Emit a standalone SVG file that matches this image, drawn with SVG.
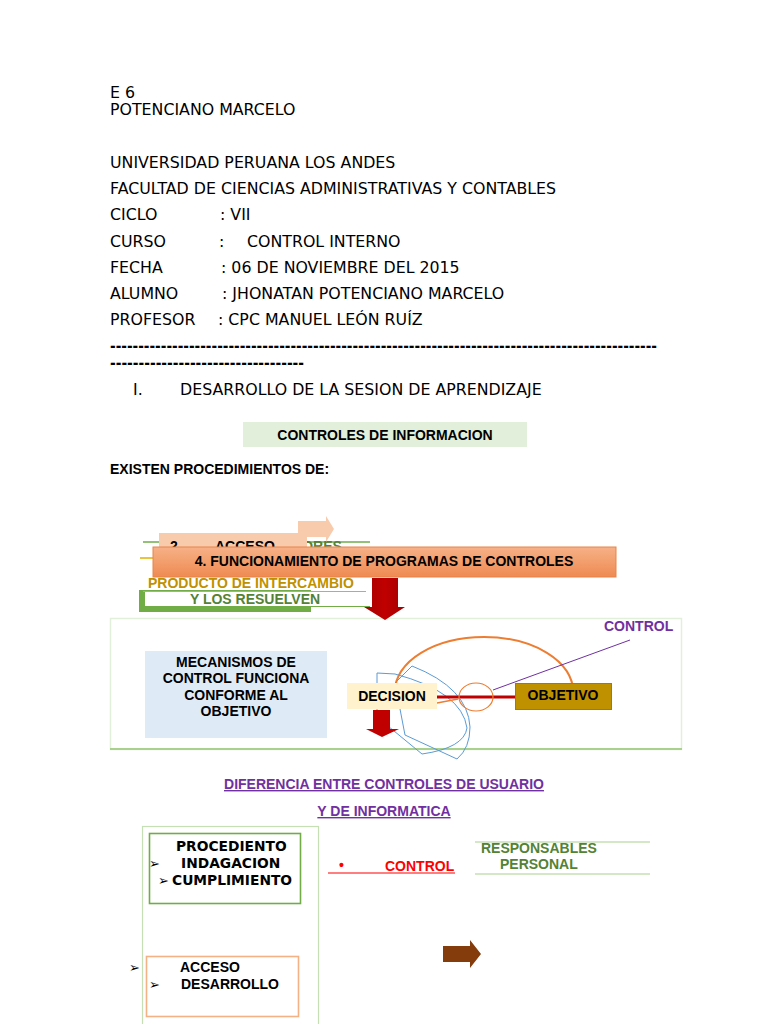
<svg xmlns="http://www.w3.org/2000/svg" width="768" height="1024" viewBox="0 0 768 1024">
<style>
.h{font-family:"DejaVu Sans",sans-serif;font-size:15.8px;fill:#000}
.b{font-family:"Liberation Sans",Arial,sans-serif;font-weight:bold;font-size:14px;fill:#000}
.c{text-anchor:middle}
.g{fill:#548235}
.gold{fill:#bf9000}
.pur{fill:#7030a0}
.red{fill:#ff0000}
.dj{font-family:"DejaVu Sans",sans-serif;font-weight:bold;font-size:13.8px;fill:#000}
.bul{font-family:"DejaVu Sans",sans-serif;font-size:13px;fill:#000}
</style>
<defs>
<linearGradient id="og" x1="0" y1="0" x2="0" y2="1">
<stop offset="0" stop-color="#f7b187"/>
<stop offset="1" stop-color="#ee8b52"/>
</linearGradient>
<linearGradient id="rg" x1="0" y1="0" x2="1" y2="0">
<stop offset="0" stop-color="#a50000"/>
<stop offset="0.5" stop-color="#c00000"/>
<stop offset="1" stop-color="#a50000"/>
</linearGradient>
</defs>
<rect width="768" height="1024" fill="#fff"/>

<g id="header">
<text class="h" x="110" y="98">E 6</text>
<text class="h" x="110" y="115">POTENCIANO MARCELO</text>
<text class="h" x="110" y="168">UNIVERSIDAD PERUANA LOS ANDES</text>
<text class="h" x="110" y="194">FACULTAD DE CIENCIAS ADMINISTRATIVAS Y CONTABLES</text>
<text class="h" x="110" y="220">CICLO</text><text class="h" x="220" y="220">: VII</text>
<text class="h" x="110" y="247">CURSO</text><text class="h" x="219" y="247">:</text><text class="h" x="247" y="247">CONTROL INTERNO</text>
<text class="h" x="110" y="273">FECHA</text><text class="h" x="221" y="273">: 06 DE NOVIEMBRE DEL 2015</text>
<text class="h" x="110" y="299">ALUMNO</text><text class="h" x="222" y="299">: JHONATAN POTENCIANO MARCELO</text>
<text class="h" x="110" y="325">PROFESOR</text><text class="h" x="218" y="325">: CPC MANUEL LEÓN RUÍZ</text>
<text class="h" x="110" y="351" textLength="547" lengthAdjust="spacingAndGlyphs" font-weight="bold">-------------------------------------------------------------------------------------------------</text>
<text class="h" x="110" y="368" textLength="194" lengthAdjust="spacingAndGlyphs" font-weight="bold">----------------------------------</text>
<text class="h" x="133" y="395">I.</text>
<text class="h" x="180" y="395">DESARROLLO DE LA SESION DE APRENDIZAJE</text>
</g>

<g id="titulo">
<rect x="243" y="422" width="284" height="25" fill="#e2efda"/>
<text class="b c" x="385" y="440">CONTROLES DE INFORMACION</text>
</g>
<text class="b" x="110" y="474">EXISTEN PROCEDIMIENTOS DE:</text>

<g id="capas">
<line x1="143" y1="542" x2="370" y2="542" stroke="#70ad47" stroke-width="1.5"/>
<text class="b g" x="303" y="551">DRES</text>
<g id="acceso">
<rect x="159" y="533" width="148" height="42" fill="#f8cbad"/>
<text class="b" x="170" y="551">2.</text>
<text class="b" x="215" y="551">ACCESO</text>
</g>
<line x1="140" y1="558" x2="160" y2="558" stroke="#e0b000" stroke-width="1.5"/>
<text class="b gold" x="148" y="588">PRODUCTO DE INTERCAMBIO</text>
<g id="resuelven">
<rect x="139" y="590" width="172" height="22" fill="#70ad47"/>
<rect x="145" y="591" width="225" height="16" fill="#fff"/>
<line x1="143" y1="591.5" x2="366" y2="591.5" stroke="#e0b000" stroke-width="1.2"/>
<line x1="145" y1="606.5" x2="370" y2="606.5" stroke="#70ad47" stroke-width="1.2"/>
<text class="b g c" x="255" y="604">Y LOS RESUELVEN</text>
</g>
<g id="funcionamiento">
<rect x="153" y="547" width="463" height="30" fill="url(#og)" stroke="#e8834a" stroke-width="1"/>
<text class="b c" x="384" y="566">4. FUNCIONAMIENTO DE PROGRAMAS DE CONTROLES</text>
</g>
</g>

<g id="marco">
<rect x="110.5" y="618.5" width="571" height="131" fill="#fff" stroke="#e2efda" stroke-width="1.5"/>
<line x1="110" y1="749" x2="682" y2="749" stroke="#a9d18e" stroke-width="2"/>
</g>

<g id="mecanismos">
<rect x="145" y="651" width="182" height="87" fill="#deebf7"/>
<text class="b c" x="236" y="667">MECANISMOS DE</text>
<text class="b c" x="236" y="683">CONTROL FUNCIONA</text>
<text class="b c" x="236" y="700">CONFORME AL</text>
<text class="b c" x="236" y="716">OBJETIVO</text>
</g>

<g id="connectors" fill="none">
<path d="M298,521 H326 V516 L334,529 L326,542 V537 H298 Z" fill="#f8cbad"/>
<path d="M372,578 H398 V607 H405 L385,620 L364,607 H372 Z" fill="url(#rg)"/>
<path d="M395,691 A89,54 0 0 1 573,691" stroke="#ed7d31" stroke-width="2"/>
<path d="M377,673 L395,674 Q462,692 467,728 Q464,748 422,754 L377,717 Z" stroke="#5b9bd5" stroke-width="1"/>
<path d="M412,666 Q468,688 470,727 Q470,748 457,759 L405,735 L395,683 Z" stroke="#5b9bd5" stroke-width="1"/>
<line x1="630" y1="640" x2="493" y2="690" stroke="#7030a0" stroke-width="1"/>
<path d="M373,710 H390 V729 H399 L382,737 L366,729 H373 Z" fill="#c00000"/>
<line x1="437" y1="697" x2="515" y2="697" stroke="#c00000" stroke-width="3"/>
<line x1="437" y1="703" x2="458" y2="699" stroke="#ed7d31" stroke-width="1.5"/>
<ellipse cx="476" cy="697" rx="17" ry="14" stroke="#ed7d31" stroke-width="1.2"/>
<line x1="328" y1="873" x2="455" y2="873" stroke="#ff0000" stroke-width="1.2"/>
<line x1="475" y1="842" x2="650" y2="842" stroke="#a9d18e" stroke-width="1.2"/>
<line x1="475" y1="874" x2="650" y2="874" stroke="#a9d18e" stroke-width="1.2"/>
<path d="M443,946 H470 V940 L481,954 L470,968 V962 H443 Z" fill="#843c0c"/>
</g>

<g id="decision">
<rect x="347" y="683" width="90" height="26" fill="#fff2cc"/>
<text class="b c" x="392" y="701">DECISION</text>
</g>
<g id="objetivo">
<rect x="515.5" y="683.5" width="96" height="26" fill="#bf9000" stroke="#a67c00"/>
<text class="b c" x="563" y="700">OBJETIVO</text>
</g>
<text class="b pur" x="604" y="631">CONTROL</text>

<g id="diferencia">
<text class="b pur c" x="384" y="789" text-decoration="underline">DIFERENCIA ENTRE CONTROLES DE USUARIO</text>
<text class="b pur c" x="384" y="816" text-decoration="underline">Y DE INFORMATICA</text>
</g>

<g id="contenedor">
<rect x="142.5" y="826.5" width="176" height="210" fill="none" stroke="#c5e0b4" stroke-width="1.2"/>
</g>
<g id="procediento">
<rect x="149.5" y="833.5" width="151" height="70" fill="#fff" stroke="#70ad47" stroke-width="1.6"/>
<text class="dj" x="176" y="851">PROCEDIENTO</text>
<text class="bul" x="149" y="868">➢</text>
<text class="dj" x="181" y="868">INDAGACION</text>
<text class="bul" x="158" y="885">➢</text>
<text class="dj" x="172" y="885">CUMPLIMIENTO</text>
</g>
<g id="acceso2">
<text class="bul" x="129" y="972">➢</text>
<rect x="146.5" y="956.5" width="152" height="60" fill="#fff" stroke="#f4b183" stroke-width="1.6"/>
<text class="b" x="180" y="972">ACCESO</text>
<text class="bul" x="149" y="989">➢</text>
<text class="b" x="181" y="989">DESARROLLO</text>
</g>
<g id="control2">
<text class="b red" x="339" y="870">•</text>
<text class="b red" x="385" y="871">CONTROL</text>
</g>
<g id="responsables">
<text class="b g" x="481" y="853">RESPONSABLES</text>
<text class="b g" x="500" y="869">PERSONAL</text>
</g>
</svg>
